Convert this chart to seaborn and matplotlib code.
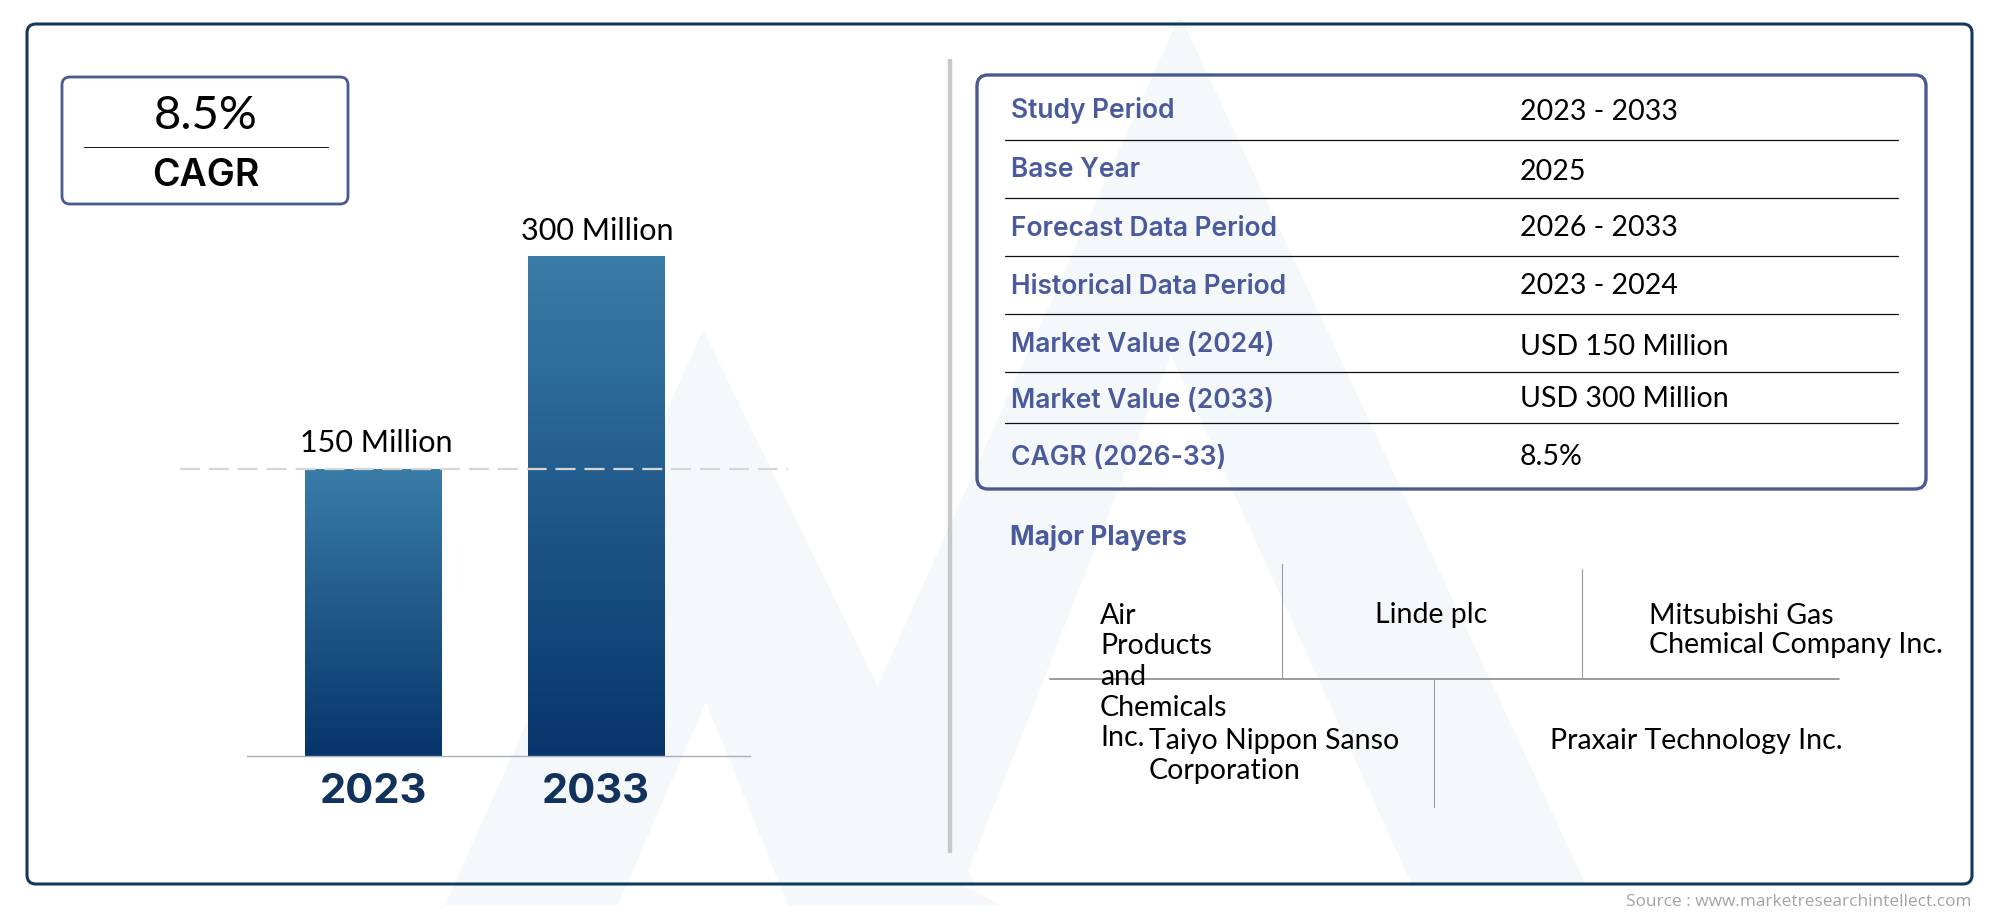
import numpy as np
import matplotlib
matplotlib.use("Agg")
import matplotlib.pyplot as plt
from matplotlib.patches import FancyBboxPatch, Polygon
import seaborn as sns

# ---- data ----
years = ["2023", "2033"]
bar_heights = [172, 300]            # drawn heights
bar_labels = ["150 Million", "300 Million"]
cagr_value = "8.5%"
cagr_label = "CAGR"
row_names = ["Study Period", "Base Year", "Forecast Data Period", "Historical Data Period",
             "Market Value (2024)", "Market Value (2033)", "CAGR (2026-33)"]
row_values = ["2023 - 2033", "2025", "2026 - 2033", "2023 - 2024",
              "USD 150 Million", "USD 300 Million", "8.5%"]
players_title = "Major Players"
player_names = [["Air", "Products", "and", "Chemicals", "Inc."], ["Linde plc"],
                ["Mitsubishi Gas", "Chemical Company Inc."],
                ["Taiyo Nippon Sanso", "Corporation"], ["Praxair Technology Inc."]]
source_text = "Source : www.marketresearchintellect.com"

# ---- layout (pixels) and styles ----
W, H = 2000, 917
NAVY = "#12395b"; BLUE = "#4a5a8f"; LABEL = "#4a5a9c"; WM = "#f5f8fb"
BODY = "Lato"; HEAD = "Inter"
row_label_y = [110, 170, 229, 287, 345, 401, 458]
row_value_y = [112, 172, 228, 286, 347, 399, 457]
rule_y = [140, 198, 256, 314, 372, 423]
player_xy = [(1100, 616), (1375, 615), (1649, 616), (1149, 741), (1550, 741)]
player_pitch = [30.5, 0, 29.5, 29.5, 0]

sns.set_theme(style="white")
plt.rcParams["font.family"] = [BODY, "DejaVu Sans"]

fig = plt.figure(figsize=(W / 100, H / 100), dpi=100, facecolor="white")
bg = fig.add_axes([0, 0, 1, 1])
bg.set_xlim(0, W); bg.set_ylim(H, 0); bg.axis("off")

# watermark
bg.add_patch(Polygon([(445, 905), (703, 330), (975, 885), (963, 885), (1000, 905), (788, 905),
                      (706, 702), (618, 905)], closed=True, fc=WM, ec="none", zorder=0))
bg.add_patch(Polygon([(873, 696), (1180, 15), (1586, 885), (1412, 885), (1171, 355), (963, 885),
                      (950, 850)], closed=True, fc=WM, ec="none", zorder=0))

def box(x0, y0, x1, y1, color, lw, r):
    bg.add_patch(FancyBboxPatch((x0 + r, y0 + r), x1 - x0 - 2 * r, y1 - y0 - 2 * r,
                                boxstyle=f"round,pad={r},rounding_size={r}", fc="none", ec=color,
                                lw=lw, zorder=1))

box(27, 24, 1972, 884, NAVY, 2.2, 9)
box(62, 77, 348, 204, BLUE, 2.0, 8)
box(977, 75, 1926, 489, BLUE, 2.4, 11)

# divider
bg.plot([950, 950], [59, 853], color="#c9c9c9", lw=3.2, solid_capstyle="butt", zorder=1)

# CAGR box
bg.plot([84, 328], [146.5, 146.5], color="#111111", lw=0.7, zorder=2)
bg.text(206, 116, cagr_value, ha="center", va="center", fontsize=34, color="black", family=[BODY])
bg.text(206, 176, cagr_label, ha="center", va="center", fontsize=27, color="black", family=[HEAD],
        fontweight="semibold")

# table
for y in rule_y:
    bg.plot([1005, 1898], [y, y], color="#111111", lw=0.9, zorder=2)
for name, val, yl, yv in zip(row_names, row_values, row_label_y, row_value_y):
    bg.text(1011, yl, name, ha="left", va="center", fontsize=19, color=LABEL, family=[HEAD],
            fontweight="semibold")
    bg.text(1520, yv, val, ha="left", va="center", fontsize=20.5, color="black", family=[BODY])

# major players
bg.text(1010, 538, players_title, ha="left", va="center", fontsize=19, color=LABEL, family=[HEAD],
        fontweight="bold")
bg.plot([1050, 1839], [679, 679], color="#8a8a8a", lw=1.2, zorder=2)
for x, y0, y1 in [(1282, 564, 678), (1582, 569, 678), (1434, 680, 807)]:
    bg.plot([x, x], [y0, y1], color="#9a9a9a", lw=0.8, zorder=2)
for (x, y), lines, pitch in zip(player_xy, player_names, player_pitch):
    for k, line in enumerate(lines):
        bg.text(x, y + k * pitch, line, ha="left", va="center", fontsize=20.5, color="black",
                family=[BODY], zorder=3)

bg.text(1972, 902, source_text, ha="right", va="center", fontsize=12.4, color="#a3a3a3",
        family=["Open Sans"])

# bars
ax = fig.add_axes([247 / W, 1 - 756 / H, (750 - 247) / W, 500 / H])
ax.patch.set_alpha(0)
sns.barplot(x=years, y=bar_heights, ax=ax, width=0.61, color="#1f5a8c", saturation=1)
grad = np.linspace(0, 1, 256).reshape(-1, 1)
cmap = matplotlib.colors.LinearSegmentedColormap.from_list("g", ["#06356b", "#3a7ca8"])
for p in ax.patches:
    x0, w, h = p.get_x(), p.get_width(), p.get_height()
    im = ax.imshow(grad, extent=[x0, x0 + w, 0, h], origin="lower", cmap=cmap, aspect="auto", zorder=2)
    im.set_clip_path(p)
    p.set_facecolor("none")
ax.set_xlim(-0.565, 1.69)
ax.set_ylim(0, 300)
for i, (h, lab) in enumerate(zip(bar_heights, bar_labels)):
    ax.annotate(lab, (i, h), xytext=(2 if i == 0 else 1, 9 if i == 0 else 8), textcoords="offset points",
                ha="center", va="bottom", fontsize=22, color="black", annotation_clip=False, family=[BODY])
for s in ["top", "left", "right"]:
    ax.spines[s].set_visible(False)
ax.spines["bottom"].set_color("#a8aebb")
ax.spines["bottom"].set_linewidth(1)
ax.set_yticks([])
ax.set_xticks([0, 1])
ax.set_xticklabels(years, fontsize=30, fontweight="bold", color="#10325c", family=[HEAD])
ax.tick_params(axis="x", length=0, pad=12)
ax.set_ylabel("")
ax.axhline(172, xmin=(180 - 247) / 503, xmax=(788 - 247) / 503, color="#d6d6d6", lw=1.6,
           dashes=(9, 4), clip_on=False, zorder=5)

fig.savefig("out.png", dpi=100)
